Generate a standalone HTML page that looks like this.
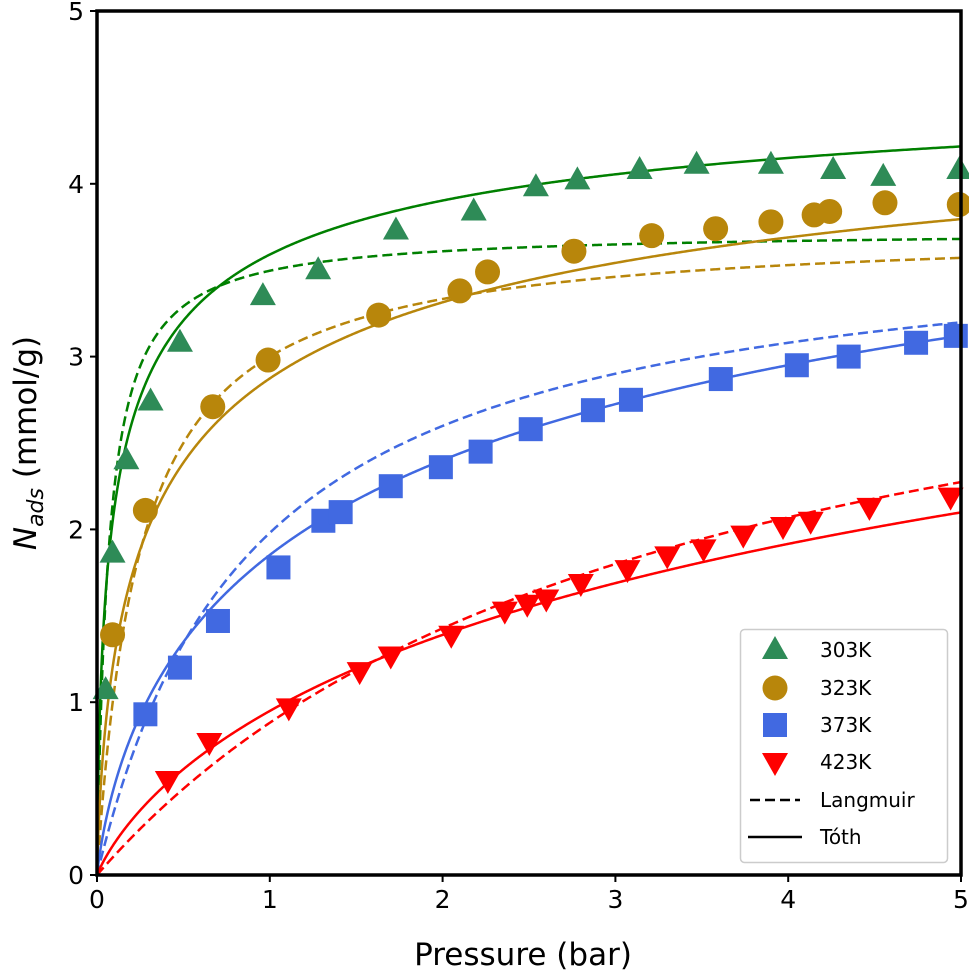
<!DOCTYPE html>
<html><head><meta charset="utf-8"><style>
html,body{margin:0;padding:0;background:#fff;}
svg{display:block;font-family:"DejaVu Sans","Liberation Sans",sans-serif;}
</style></head><body>
<svg id="chart" width="969" height="975" viewBox="0 0 969 975">
<g id="curves"></g>
<g id="marks"></g>
<rect x="97" y="11" width="864" height="864" fill="none" stroke="#000" stroke-width="3.5"/>
<g id="axes"></g>
<text x="523" y="965" font-size="31" text-anchor="middle">Pressure (bar)</text>
<text transform="translate(36,443) rotate(-90)" font-size="31" text-anchor="middle"><tspan font-style="italic">N</tspan><tspan font-style="italic" font-size="22" dy="7">ads</tspan><tspan dy="-7"> (mmol/g)</tspan></text>
<g id="legend">
<rect x="740.5" y="629.5" width="207" height="233" rx="4" fill="#fff" stroke="#ccc" stroke-width="1.5"/>
</g>
</svg>
<script>
const xTicks = [0,1,2,3,4,5];
const yTicks = [0,1,2,3,4,5];
const seriesNames = ["303K","323K","373K","423K"];
const seriesColors = ["#2e8b57","#b8860b","#4169e1","#ff0000"];
const lineColors = ["#008000","#b8860b","#4169e1","#ff0000"];
const markerShapes = ["tri","circle","square","vtri"];
const p303 = [0.05,0.09,0.17,0.31,0.48,0.96,1.28,1.73,2.18,2.54,2.78,3.14,3.47,3.9,4.26,4.55,4.99];
const q303 = [1.07,1.86,2.40,2.74,3.08,3.35,3.50,3.73,3.84,3.98,4.02,4.08,4.11,4.11,4.08,4.04,4.08];
const p323 = [0.09,0.28,0.67,0.99,1.63,2.1,2.26,2.76,3.21,3.58,3.9,4.15,4.24,4.56,4.99];
const q323 = [1.39,2.11,2.71,2.98,3.24,3.38,3.49,3.61,3.70,3.74,3.78,3.82,3.84,3.89,3.88];
const p373 = [0.28,0.48,0.70,1.05,1.31,1.41,1.70,1.99,2.22,2.51,2.87,3.09,3.61,4.05,4.35,4.74,4.97];
const q373 = [0.93,1.20,1.47,1.78,2.05,2.10,2.25,2.36,2.45,2.58,2.69,2.75,2.87,2.95,3.00,3.08,3.12];
const p423 = [0.41,0.65,1.11,1.52,1.70,2.05,2.36,2.49,2.60,2.80,3.07,3.30,3.51,3.74,3.97,4.13,4.47,4.94];
const q423 = [0.55,0.77,0.97,1.18,1.27,1.39,1.53,1.57,1.60,1.69,1.77,1.85,1.89,1.97,2.02,2.05,2.13,2.19];
// fit parameters [qm, b]
const langmuirQm = [3.73,3.75,3.78,3.76];
const langmuirB = [15,4.0,1.1,0.306];
const tothQm = [4.85,4.91,5.42,5.71];
const tothB = [38,10.6,1.98,0.474];
const tothT = [0.5,0.5,0.5,0.5];

const X0=97,X1=961,Y0=875,Y1=11;
const xs=v=>X0+(v-0)/5*(X1-X0);
const ys=v=>Y0-(v-0)/5*(Y0-Y1);
const NS="http://www.w3.org/2000/svg";
function mk(tag,attrs,parent){const e=document.createElementNS(NS,tag);for(const k in attrs)e.setAttribute(k,attrs[k]);parent.appendChild(e);return e;}

const axes=document.getElementById('axes');
xTicks.forEach(t=>{
  const l=mk('line',{x1:xs(t),x2:xs(t),y1:Y0,y2:Y0+7,stroke:'#000','stroke-width':2},axes);
  
  
  const tx=mk('text',{x:xs(t),y:Y0+33,'font-size':25,'text-anchor':'middle'},axes);
  tx.textContent=t;
  
  
});
yTicks.forEach(t=>{
  const l=mk('line',{x1:X0-7,x2:X0,y1:ys(t),y2:ys(t),stroke:'#000','stroke-width':2},axes);
  
  
  const tx=mk('text',{x:X0-13,y:ys(t)+9,'font-size':25,'text-anchor':'end'},axes);
  tx.textContent=t;
  
  
});

const curves=document.getElementById('curves');
function lang(i,P){const b=langmuirB[i];return langmuirQm[i]*b*P/(1+b*P);}
function toth(i,P){const b=tothB[i],t=tothT[i];return tothQm[i]*b*P/Math.pow(1+Math.pow(b*P,t),1/t);}
for(let i=0;i<4;i++){
  let dL='',dT='';
  for(let k=0;k<=1000;k++){
    const P=5*Math.pow(k/1000,2);
    dL+=(k?'L':'M')+xs(P).toFixed(2)+','+ys(lang(i,P)).toFixed(2);
    dT+=(k?'L':'M')+xs(P).toFixed(2)+','+ys(toth(i,P)).toFixed(2);
  }
  const a=mk('path',{d:dL,fill:'none',stroke:lineColors[i],'stroke-width':2.5,'stroke-dasharray':'10,5'},curves);
  
  
  const b=mk('path',{d:dT,fill:'none',stroke:lineColors[i],'stroke-width':2.5},curves);
  
  
}

function marker(shape,cx,cy,color,parent){
  let e;
  if(shape==='tri') e=mk('polygon',{points:`${cx},${cy-14} ${cx-13},${cy+9} ${cx+13},${cy+9}`,fill:color},parent);
  else if(shape==='vtri') e=mk('polygon',{points:`${cx},${cy+14} ${cx-13},${cy-9} ${cx+13},${cy-9}`,fill:color},parent);
  else if(shape==='circle') e=mk('circle',{cx:cx,cy:cy,r:12.5,fill:color},parent);
  else e=mk('rect',{x:cx-12,y:cy-12,width:24,height:24,fill:color},parent);
  return e;
}
const marks=document.getElementById('marks');
const P=[p303,p323,p373,p423],Q=[q303,q323,q373,q423];
for(let i=0;i<4;i++){
  P[i].forEach((p,j)=>{
    const e=marker(markerShapes[i],xs(p),ys(Q[i][j]),seriesColors[i],marks);
    
    
  });
}

const legend=document.getElementById('legend');
const legY=[650,688,725,762];
for(let i=0;i<4;i++){
  const e=marker(markerShapes[i],775,legY[i],seriesColors[i],legend);
  
  
  const t=mk('text',{x:820,y:legY[i]+7,'font-size':20},legend);
  t.textContent=seriesNames[i];
  
  
}
const l1=mk('line',{x1:750,x2:800,y1:800,y2:800,stroke:'#000','stroke-width':2.5,'stroke-dasharray':'10,5'},legend);


const t1=mk('text',{x:820,y:807,'font-size':20},legend);t1.textContent='Langmuir';


const l2=mk('line',{x1:748,x2:802,y1:837,y2:837,stroke:'#000','stroke-width':2.5},legend);


const t2=mk('text',{x:820,y:844,'font-size':20},legend);t2.textContent='Tóth';


</script>
</body></html>
